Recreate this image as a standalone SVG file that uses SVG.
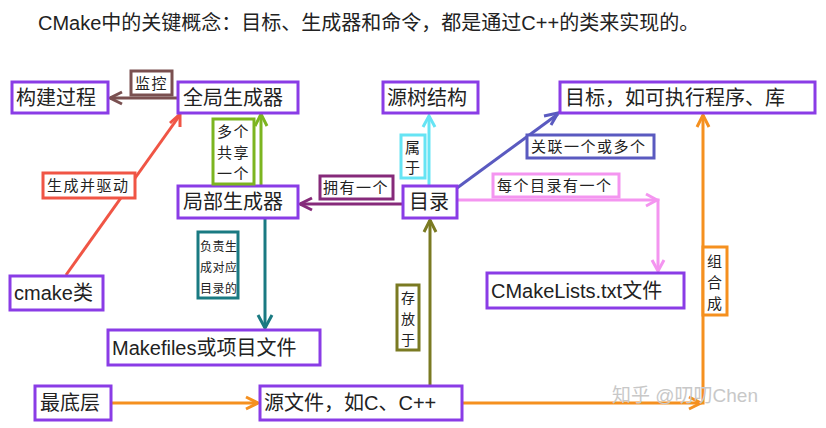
<svg xmlns="http://www.w3.org/2000/svg" width="826" height="428" viewBox="0 0 826 428">
<style>
text{font-family:"Liberation Sans","Noto Sans CJK SC",sans-serif;fill:#222}
.n rect{fill:#fff;stroke:#8a3ce6;stroke-width:3}
.n text{font-size:20px}
.l rect{fill:#fff;stroke-width:3}
.l text{font-size:15px;letter-spacing:1.5px}
.c{fill:none;stroke-width:3}
.h{fill:none;stroke-width:3}
</style>
<rect width="826" height="428" fill="#fff"/>
<text x="38" y="30" style="font-size:20px">CMake中的关键概念：目标、生成器和命令，都是通过C++的类来实现的。</text>
<g id="connectors">
<path class="c" stroke="#7a5050" d="M178,98 L110,98"/>
<path class="c" stroke="#7cb520" d="M261,186 L261,115"/>
<path class="c" stroke="#f05545" d="M66,275 L180,115"/>
<path class="c" stroke="#862a7a" d="M403,204 L300,204"/>
<path class="c" stroke="#66e4f4" d="M429,186 L429,116"/>
<path class="c" stroke="#5a5ac0" d="M457,188 L558,114"/>
<path class="c" stroke="#f495f0" d="M457,200 L658,200 L658,271"/>
<path class="c" stroke="#1a7a82" d="M265,218 L265,328"/>
<path class="c" stroke="#7a7a22" d="M430,385 L430,220"/>
<path class="c" stroke="#f5901f" d="M111,403 L258,403"/>
<path class="c" stroke="#f5901f" d="M462,403 L703,403 L703,115"/>
<path class="h" d="M122,92 L110,98 L122,104" stroke="#7a5050"/>
<path class="h" d="M255,126 L261,114 L267,126" stroke="#7cb520"/>
<path class="h" d="M170,123 L180,114 L180,127" stroke="#f05545"/>
<path class="h" d="M312,198 L300,204 L312,210" stroke="#862a7a"/>
<path class="h" d="M423,127 L429,116 L435,127" stroke="#66e4f4"/>
<path class="h" d="M544,116 L558,113 L551,125" stroke="#5a5ac0"/>
<path class="h" d="M646,194 L657,200 L646,206" stroke="#f495f0"/>
<path class="h" d="M652,260 L658,271 L664,260" stroke="#f495f0"/>
<path class="h" d="M258,315 L265,328 L272,315" stroke="#1a7a82"/>
<path class="h" d="M424,232 L430,220 L436,232" stroke="#7a7a22"/>
<path class="h" d="M246,397 L258,403 L246,409" stroke="#f5901f"/>
<path class="h" d="M689,397 L701,403 L689,409" stroke="#f5901f"/>
<path class="h" d="M697,127 L703,115 L709,127" stroke="#f5901f"/>
</g>
<g id="n1" class="n"><rect x="12" y="82" width="96" height="31"/><text x="16" y="105">构建过程</text></g>
<g id="n2" class="n"><rect x="178" y="82" width="120" height="31"/><text x="183" y="105">全局生成器</text></g>
<g id="n3" class="n"><rect x="383" y="82" width="95" height="31"/><text x="387" y="105">源树结构</text></g>
<g id="n4" class="n"><rect x="560" y="82" width="255" height="31"/><text x="565" y="105">目标，如可执行程序、库</text></g>
<g id="n5" class="n"><rect x="178" y="186" width="120" height="32"/><text x="183" y="209">局部生成器</text></g>
<g id="n6" class="n"><rect x="403" y="186" width="54" height="32"/><text x="409" y="209">目录</text></g>
<g id="n7" class="n"><rect x="10" y="276" width="93" height="34"/><text x="14" y="300">cmake类</text></g>
<g id="n8" class="n"><rect x="487" y="273" width="197" height="35"/><text x="491" y="298">CMakeLists.txt文件</text></g>
<g id="n9" class="n"><rect x="108" y="330" width="212" height="35"/><text x="112" y="355">Makefiles或项目文件</text></g>
<g id="n10" class="n"><rect x="35" y="386" width="76" height="34"/><text x="40" y="410">最底层</text></g>
<g id="n11" class="n"><rect x="260" y="386" width="202" height="34"/><text x="264" y="410">源文件，如C、C++</text></g>
<g id="labels" class="l">
<g><rect x="131" y="71" width="41" height="24" stroke="#7a5050"/><text x="135" y="89">监控</text></g>
<g><rect x="213" y="119" width="41" height="65" stroke="#7cb520"/><text x="217" y="137">多个</text><text x="217" y="158">共享</text><text x="217" y="179">一个</text></g>
<g><rect x="43" y="173" width="92" height="25" stroke="#f05545"/><text x="47" y="191">生成并驱动</text></g>
<g><rect x="320" y="176" width="73" height="23" stroke="#862a7a"/><text x="323" y="193">拥有一个</text></g>
<g><rect x="401" y="135" width="24" height="43" stroke="#66e4f4"/><text x="405" y="153">属</text><text x="405" y="173">于</text></g>
<g><rect x="527" y="135" width="127" height="23" stroke="#5a5ac0"/><text x="531" y="152">关联一个或多个</text></g>
<g><rect x="493" y="174" width="126" height="23" stroke="#f495f0"/><text x="497" y="191">每个目录有一个</text></g>
<g><rect x="198" y="232" width="40" height="66" stroke="#1a7a82"/><text x="200" y="251" style="font-size:12px;letter-spacing:0.5px">负责生</text><text x="200" y="272" style="font-size:12px;letter-spacing:0.5px">成对应</text><text x="200" y="293" style="font-size:12px;letter-spacing:0.5px">目录的</text></g>
<g><rect x="397" y="285" width="22" height="65" stroke="#7a7a22"/><text x="401" y="303" style="font-size:14px">存</text><text x="401" y="324" style="font-size:14px">放</text><text x="401" y="345" style="font-size:14px">于</text></g>
<g><rect x="703" y="247" width="24" height="68" stroke="#f5901f"/><text x="707" y="267">组</text><text x="707" y="288">合</text><text x="707" y="309">成</text></g>
</g>
<text x="612" y="402" style="font-size:19px;fill:#c8c8c8">知乎 @叨叨Chen</text>
</svg>
